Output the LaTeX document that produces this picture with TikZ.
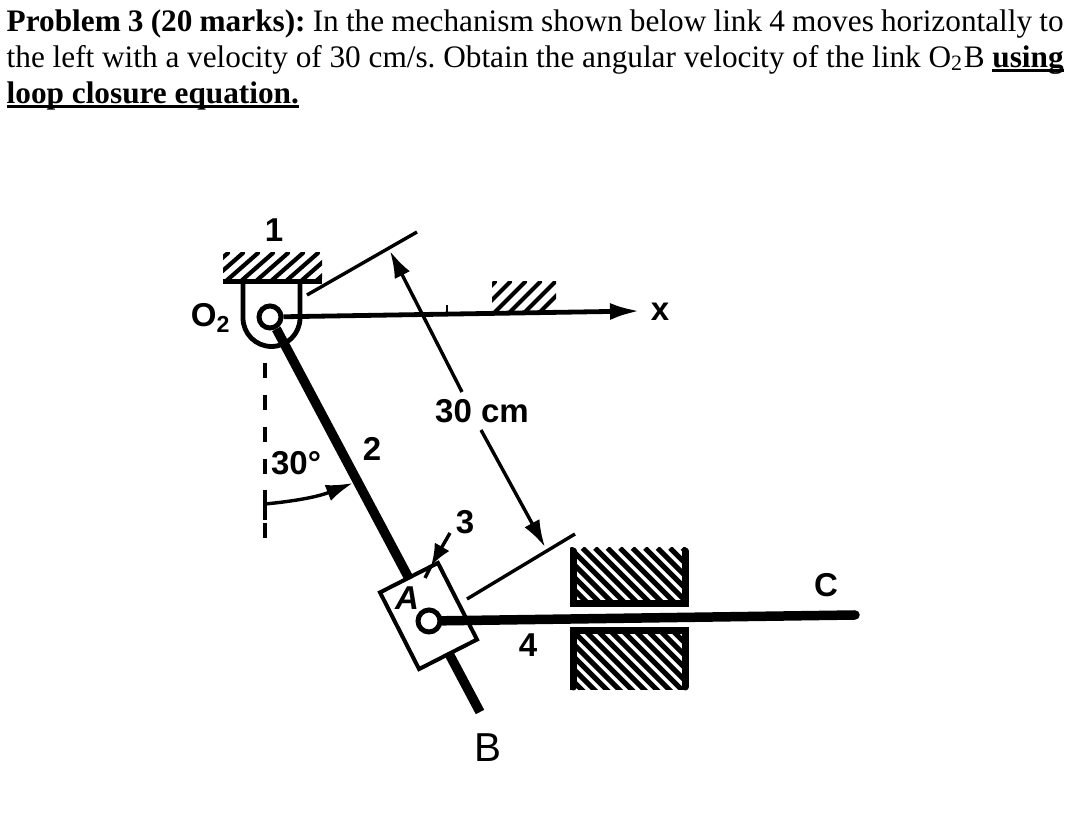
\documentclass[tikz,border=0pt]{standalone}
\usepackage{fontspec}
\setmainfont{Liberation Serif}
\setsansfont{Liberation Sans}
\usetikzlibrary{arrows.meta}
\newsavebox{\undertextbox}
\newcommand{\undertext}[1]{\sbox{\undertextbox}{#1}\rlap{\vrule width\wd\undertextbox height -0.5pt depth 1.3pt}\usebox{\undertextbox}}
\tikzset{
 lab/.style={font=\sffamily\bfseries\fontsize{9.4}{9.4}\selectfont,inner sep=0pt},
 pin/.style={draw=black,fill=white,circle,line width=0.05cm,minimum size=0.22cm,inner sep=0pt},
 link/.style={black,line width=0.095cm},
 wall/.style={black,line width=0.048cm},
 dim/.style={black,line width=0.034cm},
 hatchline/.style={black,line width=0.042cm,line cap=round},
 bigtip/.style={-{Latex[length=0.27cm,width=0.17cm]}},
 blockedge/.style={black,line width=0.07cm,line cap=round},
}
\begin{document}
\begin{tikzpicture}
\useasboundingbox (0,0) rectangle (10.83,8.29);
% problem statement
\node[anchor=north west,inner sep=0pt,text width=10.57cm,align=justify,font=\frenchspacing\fontsize{8.9}{10.2}\selectfont] (problem) at (0.06,8.2)
 {\textbf{Problem 3 (20 marks):} In the mechanism shown below link 4 moves horizontally to\linebreak
 the left with a velocity of 30 cm/s. Obtain the angular velocity of the link O\textsubscript{2}B \undertext{\textbf{using}}\linebreak
 \undertext{\textbf{loop closure equation.}}};
% points
\coordinate (B) at (4.80,1.17);
\coordinate (C) at (8.55,2.14);
\coordinate (xtip) at (6.40,5.18);
% fixed pivot
\begin{scope}
\clip (2.23,5.47) rectangle (3.22,5.76);
\foreach \x in {1.95,2.10,...,3.30}
 \draw[hatchline] (\x,5.47) -- ++(0.33,0.29);
\end{scope}
\draw[black,line width=0.05cm] (2.23,5.47) -- (3.22,5.47);
\draw[wall] (2.43,5.47) -- (2.43,5.11) arc (180:360:0.285) -- (3.00,5.47);
% x axis
\begin{scope}
\clip (4.92,5.17) rectangle (5.56,5.47);
\foreach \x in {4.65,4.80,...,5.55}
 \draw[hatchline] (\x,5.17) -- ++(0.30,0.30);
\end{scope}
\node[pin] (O) at (2.70,5.12) {};
\draw[wall,-{Latex[length=0.3cm,width=0.17cm]}] (O) -- (xtip);
\draw[black,line width=0.025cm] (4.47,5.17) -- (4.47,5.24);
\node[lab] (xlab) at (6.60,5.17) {x};
% frame line under the link
\draw[dim,dash pattern=on 0.15cm off 0.17cm] (2.65,4.66) -- (2.65,2.84);
\draw[dim] (2.65,3.39) -- (2.65,3.09);
% dimension
\coordinate (dimA) at (3.07,5.34);
\coordinate (dimB) at (4.17,5.97);
\coordinate (dimC) at (4.67,2.30);
\coordinate (dimD) at (5.75,2.95);
\coordinate (tipA) at (3.90,5.78);
\coordinate (tipC) at (5.45,2.82);
\coordinate (gapA) at (4.62,4.37);
\coordinate (gapC) at (4.81,3.99);
\draw[dim] (dimA) -- (dimB);
\draw[dim] (dimC) -- (dimD);
\draw[dim,bigtip] (gapA) -- (tipA);
\draw[dim,bigtip] (gapC) -- (tipC);
\node[lab] (dimlab) at (4.82,4.18) {30 cm};
% guide blocks
\begin{scope}
\clip (5.70,2.22) rectangle (6.87,2.81);
\foreach \x in {4.95,5.075,...,6.90}
 \draw[black,line width=0.05cm] (\x,2.81) -- ++(0.62,-0.62);
\end{scope}
\draw[blockedge] (5.73,2.78) -- (5.73,2.25) -- (6.85,2.25) -- (6.85,2.78);
\begin{scope}
\clip (5.70,1.39) rectangle (6.87,2.01);
\foreach \x in {4.95,5.075,...,6.90}
 \draw[black,line width=0.05cm] (\x,2.01) -- ++(0.64,-0.64);
\end{scope}
\draw[blockedge] (5.73,1.42) -- (5.73,1.98) -- (6.85,1.98) -- (6.85,1.42);
% link 2, slider 3, link 4
\draw[link] (O) -- (B);
\node[draw=black,fill=white,line width=0.04cm,minimum width=0.65cm,minimum height=0.86cm,rotate=27,inner sep=0pt] (slider) at (4.285,2.13) {};
\node[pin] (A) at (4.29,2.08) {};
\draw[link,line cap=round] (A) -- (C);
\node[lab,font=\sffamily\bfseries\itshape\fontsize{9.4}{9.4}\selectfont] (Alab) at (4.07,2.31) {A};
% leaders and angle
\coordinate (leadA) at (4.50,2.96);
\coordinate (leadB) at (4.31,2.63);
\coordinate (leadC) at (4.25,2.51);
\draw[dim,-{Latex[length=0.22cm,width=0.17cm]}] (leadA) -- (leadB);
\draw[dim] (leadB) -- (leadC);
\coordinate (angA) at (2.65,3.25);
\coordinate (angB) at (3.53,3.46);
\draw[dim,bigtip] (angA) to[bend right=8] (angB);
% labels
\node[lab] (one) at (2.74,5.99) {1};
\node[lab] (ground) at (2.11,5.11) {O\textsubscript{2}};
\node[lab] (two) at (3.72,3.80) {2};
\node[lab] (angle) at (2.96,3.66) {30°};
\node[lab] (three) at (4.65,3.07) {3};
\node[lab] (four) at (5.28,1.84) {4};
\node[lab] (clab) at (8.26,2.44) {C};
\node[inner sep=0pt,font=\sffamily\fontsize{11.5}{11.5}\selectfont] (blab) at (4.88,0.81) {B};
\end{tikzpicture}
\end{document}
